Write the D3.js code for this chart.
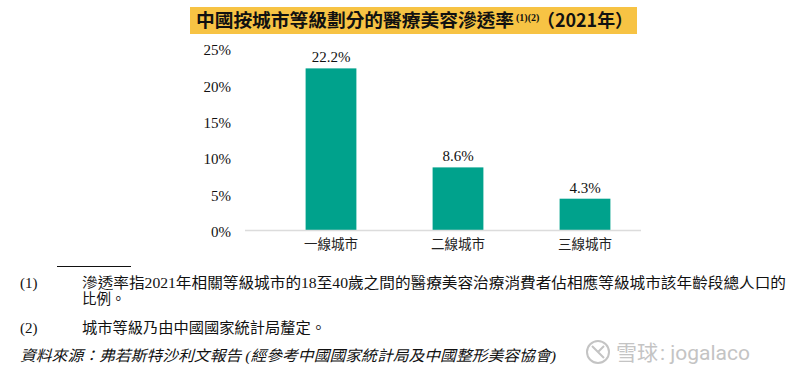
<!DOCTYPE html>
<html>
<head>
<meta charset="utf-8">
<script src="https://cdnjs.cloudflare.com/ajax/libs/d3/7.8.5/d3.min.js"></script>
<style>
  body { margin: 0; background: #fff; }
  svg { display: block; }
</style>
</head>
<body>
<svg id="chart" width="800" height="377"></svg>
<script>
// penetration rate by city tier, 2021
const categories = ["一線城市", "二線城市", "三線城市"];
const rates = [22.2, 8.6, 4.3];
const yTicks = [0, 5, 10, 15, 20, 25];

const serif = "'Liberation Serif', 'Noto Sans CJK TC', serif";
const cjk = "'Noto Sans CJK TC', 'Noto Sans CJK SC', sans-serif";

const svg = d3.select("#chart");

// title banner
svg.append("rect")
    .attr("x", 190).attr("y", 7)
    .attr("width", 447).attr("height", 27)
    .attr("fill", "#F7C344");

const title = svg.append("text")
    .attr("x", 196).attr("y", 27)
    .attr("font-family", cjk)
    .attr("font-weight", "bold")
    .attr("font-size", 18)
    .attr("fill", "#111");
title.append("tspan").text("中國按城市等級劃分的醫療美容滲透率")
    .attr("textLength", 318).attr("lengthAdjust", "spacingAndGlyphs");
title.append("tspan").text("(1)(2)")
    .attr("x", 516).attr("dy", -6)
    .attr("font-family", serif).attr("font-size", 10);
title.append("tspan").text("（2021年）")
    .attr("x", 537).attr("dy", 6)
    .attr("textLength", 96).attr("lengthAdjust", "spacingAndGlyphs");

// scales
const x = d3.scaleBand()
    .domain(categories)
    .range([267.5, 648.5])
    .paddingInner(0.6)
    .paddingOuter(0.3);

const y = d3.scaleLinear()
    .domain([0, 25])
    .range([230, 48]);

// y labels (no axis line)
const yAxis = svg.append("g")
    .attr("transform", "translate(231,0)")
    .call(d3.axisLeft(y).tickValues(yTicks).tickSize(0).tickPadding(0).tickFormat(d => d + "%"));
yAxis.select(".domain").remove();
yAxis.selectAll("text")
    .attr("font-family", serif)
    .attr("font-size", 15)
    .attr("fill", "#111")
    .attr("dy", "0.45em");

// bars
svg.append("g").selectAll("rect")
    .data(rates)
    .join("rect")
    .attr("x", (d, i) => x(categories[i]))
    .attr("y", d => y(d))
    .attr("width", x.bandwidth())
    .attr("height", d => y(0) - y(d))
    .attr("fill", "#00A28C");

// value labels
svg.append("g").selectAll("text")
    .data(rates)
    .join("text")
    .attr("x", (d, i) => x(categories[i]) + x.bandwidth() / 2)
    .attr("y", d => y(d) - 6)
    .attr("text-anchor", "middle")
    .attr("font-family", serif)
    .attr("font-size", 15)
    .attr("fill", "#111")
    .text(d => d.toFixed(1) + "%");

// x baseline + category labels
const xAxis = svg.append("g")
    .attr("transform", "translate(0," + y(0) + ")")
    .call(d3.axisBottom(x).tickSize(0).tickPadding(9));
xAxis.select(".domain")
    .attr("d", "M245,0.5H641")
    .attr("stroke", "#dcdcdc")
    .attr("stroke-width", 1.5);
xAxis.selectAll("text")
    .attr("font-family", cjk)
    .attr("font-size", 13.5)
    .attr("fill", "#222");

// footnotes
svg.append("line")
    .attr("x1", 57).attr("x2", 131)
    .attr("y1", 266.5).attr("y2", 266.5)
    .attr("stroke", "#111").attr("stroke-width", 1);

const notes = [
    { mark: "(1)", lines: ["滲透率指2021年相關等級城市的18至40歲之間的醫療美容治療消費者佔相應等級城市該年齡段總人口的", "比例。"], y: 288 },
    { mark: "(2)", lines: ["城市等級乃由中國國家統計局釐定。"], y: 333 }
];
const noteWidths = [[704, null], [244]];

notes.forEach((n, ni) => {
    svg.append("text")
        .attr("x", 20).attr("y", n.y)
        .attr("font-family", serif).attr("font-size", 15).attr("fill", "#111")
        .text(n.mark);
    n.lines.forEach((l, li) => {
        const t = svg.append("text")
            .attr("x", 82).attr("y", n.y + li * 16)
            .attr("font-family", serif)
            .attr("font-size", 14.5).attr("fill", "#111")
            .text(l);
        if (noteWidths[ni][li]) {
            t.attr("textLength", noteWidths[ni][li]).attr("lengthAdjust", "spacingAndGlyphs");
        }
    });
});

svg.append("text")
    .attr("x", 20).attr("y", 361)
    .attr("font-family", serif)
    .attr("font-style", "italic")
    .attr("font-size", 15).attr("fill", "#111")
    .attr("textLength", 536).attr("lengthAdjust", "spacingAndGlyphs")
    .text("資料來源：弗若斯特沙利文報告 (經參考中國國家統計局及中國整形美容協會)");

// watermark
const wm = svg.append("g").attr("fill", "none").attr("stroke", "#c4c4c4").attr("stroke-width", 2);
wm.append("circle").attr("cx", 598).attr("cy", 352).attr("r", 11);
wm.append("path").attr("d", "M592,346 L604,358 M604,346 L598,352");
svg.append("text")
    .attr("x", 616).attr("y", 360)
    .attr("font-family", "'Noto Sans CJK SC', sans-serif")
    .attr("font-size", 21).attr("fill", "#c4c4c4")
    .text("雪球");
svg.append("text")
    .attr("x", 660).attr("y", 360)
    .attr("font-family", "Roboto, 'Noto Sans', sans-serif")
    .attr("font-size", 21).attr("fill", "#c4c4c4")
    .text(": jogalaco");
</script>
</body>
</html>
